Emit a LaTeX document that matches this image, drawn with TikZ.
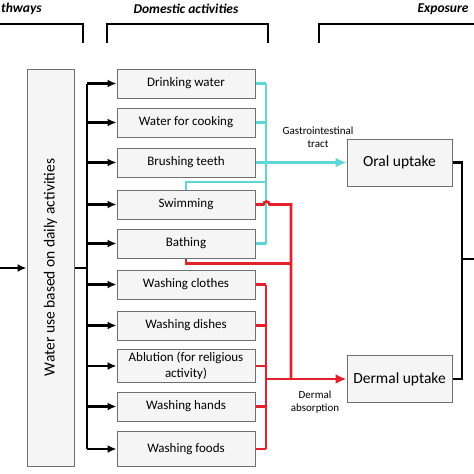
\documentclass[tikz,border=0pt]{standalone}
\usepackage{fontspec}
\setmainfont{Carlito}
\usetikzlibrary{arrows.meta}

\definecolor{giblue}{HTML}{5ED6D6}
\definecolor{dermred}{HTML}{E3202B}
\definecolor{boxgray}{HTML}{707070}

\begin{document}
\begin{tikzpicture}
	[
		x = 1pt, y = -1pt,
		activity/.style = {draw=boxgray, line width=1pt, fill=black!4, minimum width=138pt, minimum height=29pt, inner xsep=1pt, align=center, font=\fontsize{13}{15.5}\selectfont},
		uptake/.style = {draw=boxgray, line width=1pt, fill=black!4, minimum width=105pt, minimum height=47pt, font=\fontsize{15.5}{18}\selectfont},
		header/.style = {font=\fontsize{13.5}{16}\selectfont\bfseries\itshape},
		pathlabel/.style = {align=center, font=\fontsize{11}{13}\selectfont},
		bus/.style = {line width=2.4pt, black},
		feed/.style = {bus, -{Latex[length=9pt, width=8pt]}},
		oral/.style = {line width=2.6pt, giblue},
		dermal/.style = {line width=2.6pt, dermred}]

	\useasboundingbox (0,0) rectangle (474,474);

	% headers and brackets
	\node[header, anchor=west, inner xsep=0pt] (pathways) at (1,9) {thways};
	\node[header] (domestic) at (186,9) {Domestic activities};
	\node[header, anchor=east] (exposure) at (472,9) {Exposure};
	\draw[bus] (0,24) -- (83,24) -- (83,43);
	\draw[bus] (107,43) -- (107,24) -- (268,24) -- (268,43);
	\draw[bus] (319,43) -- (319,24) -- (474,24);

	% water use
	\node[draw=boxgray, line width=1pt, fill=black!4, minimum width=47pt, minimum height=397pt] (wateruse) at (50.5,267.5) {};
	\node[rotate=90, font=\fontsize{15.5}{18}\selectfont] (wateruselabel) at (wateruse.center) {Water use based on daily activities};

	% activities
	\foreach \name/\y/\txt in {
			drink/83.5/{Drinking water},
			cook/122.5/{Water for cooking},
			teeth/162.5/{Brushing teeth},
			swim/204.5/{Swimming},
			bath/243.5/{Bathing},
			clothes/284.5/{Washing clothes},
			dishes/325.5/{Washing dishes},
			ablution/366/{Ablution (for religious\\activity)},
			hands/406.5/{Washing hands}}
		\node[activity] (\name) at (186,\y) {\txt};
	\node[activity, minimum height=35pt] (foods) at (186,449) {Washing foods};

	% uptakes
	\node[uptake] (oraluptake) at (399.5,162.5) {Oral uptake};
	\node[uptake] (dermaluptake) at (399.5,379) {Dermal uptake};

	% feeding bus
	\coordinate (source) at (0,268);
	\coordinate (split) at (87,268);
	\draw[feed] (source) -- (source -| wateruse.west);
	\draw[bus] (wateruse.east |- split) -- (split);
	\draw[bus] (split |- drink) -- (split |- foods);
	\foreach \name in {drink,cook,teeth,swim,bath,clothes,dishes,ablution,hands,foods}
		\draw[feed] (split |- \name.west) -- (\name.west);

	% gastrointestinal tract
	\coordinate (gi) at (266,162.5);
	\coordinate (swimtop) at (186,182);
	\foreach \name in {drink,cook,teeth,bath}
		\draw[oral] (\name.east) -- (\name.east -| gi);
	\draw[oral] (swim.north) -- (swimtop) -- (swimtop -| gi);
	\draw[oral] (gi |- drink) -- (gi |- bath);
	\draw[oral, -{Latex[length=11pt, width=10pt]}] (gi) -- (oraluptake.west);
	\node[pathlabel] (gilabel) at (318,137) {Gastrointestinal\\tract};

	% dermal absorption
	\coordinate (derm) at (266,379);
	\coordinate (dermtop) at (291,379);
	\coordinate (bathbot) at (186,263.5);
	\foreach \name in {clothes,dishes,ablution,hands,foods}
		\draw[dermal] (\name.east) -- (\name.east -| derm);
	\draw[dermal] (derm |- clothes) -- (derm |- foods);
	\draw[dermal] (swim.east) -- ++(8,0) arc (180:360:3) -- (swim.east -| dermtop) -- (dermtop);
	\draw[dermal] (bath.south) -- (bathbot) -- (bathbot -| dermtop);
	\draw[dermal, -{Latex[length=11pt, width=10pt]}] (derm) -- (dermaluptake.west);
	\node[pathlabel] (dermlabel) at (315,402.5) {Dermal\\absorption};

	% exposure
	\coordinate (merge) at (462,259);
	\coordinate (exit) at (474,259);
	\draw[bus] (oraluptake.east) -- (oraluptake.east -| merge) -- (dermaluptake.east -| merge) -- (dermaluptake.east);
	\draw[bus] (merge) -- (exit);
\end{tikzpicture}
\end{document}
